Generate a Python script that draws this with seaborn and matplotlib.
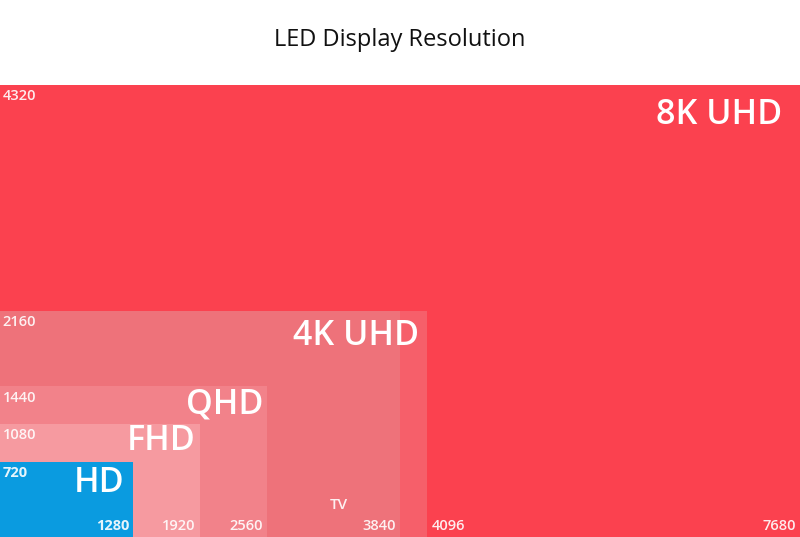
import matplotlib
matplotlib.use("Agg")
import matplotlib.pyplot as plt
import seaborn as sns

# resolutions, drawn largest first so smaller ones sit on top
names = ["8K UHD", "DCI 4K", "4K UHD", "QHD", "FHD", "HD"]
widths = [7680, 4096, 3840, 2560, 1920, 1280]
heights = [4320, 2160, 2160, 1440, 1080, 720]
colors = ["#FB414F", "#F65F6A", "#EE727A", "#F2828A", "#F69AA0", "#0A9BE0"]

big_labels = ["8K UHD", "4K UHD", "QHD", "FHD", "HD"]
big_x = [7505, 4020, 2525, 1872, 1190]
big_y = [4030, 1920, 1270, 915, 520]

height_ticks = [4320, 2160, 1440, 1080, 720]
width_ticks = [1280, 1920, 2560, 3840, 7680]

sns.set_theme(style="white")
plt.rcParams["font.family"] = ["Open Sans", "DejaVu Sans"]

fig = plt.figure(figsize=(8, 5.37), dpi=100)
ax = fig.add_axes([0, 0, 1, 452 / 537])

ax.bar([0] * len(widths), heights, width=widths, align="edge",
       color=colors, linewidth=0)

ax.set_xlim(0, 7680)
ax.set_ylim(0, 4320)
ax.axis("off")

for lab, x, y in zip(big_labels, big_x, big_y):
    ax.text(x, y, lab, color="white", fontsize=24.5, ha="right", va="center",
            fontweight="semibold")

for h in height_ticks:
    bold = "bold" if h == 720 else "semibold"
    ax.annotate(str(h), (0, h), xytext=(2, -3), textcoords="offset points",
                color="white", alpha=0.9, fontsize=10.5, ha="left", va="top",
                fontweight=bold)

for w in width_ticks:
    bold = "bold" if w == 1280 else "semibold"
    ax.annotate(str(w), (w, 0), xytext=(-3, 3), textcoords="offset points",
                color="white", alpha=0.9, fontsize=10.5, ha="right", va="bottom",
                fontweight=bold)

ax.annotate("4096", (4096, 0), xytext=(4, 3), textcoords="offset points",
            color="white", alpha=0.9, fontsize=10.5, ha="left", va="bottom",
            fontweight="semibold")
ax.text(3250, 310, "TV", color="white", alpha=0.9, fontsize=11,
        ha="center", va="center", fontweight="semibold")

fig.text(0.5, 1 - 40 / 537, "LED Display Resolution", ha="center",
         va="center", fontsize=17, color="#111111")

fig.savefig("out.png", dpi=100)
